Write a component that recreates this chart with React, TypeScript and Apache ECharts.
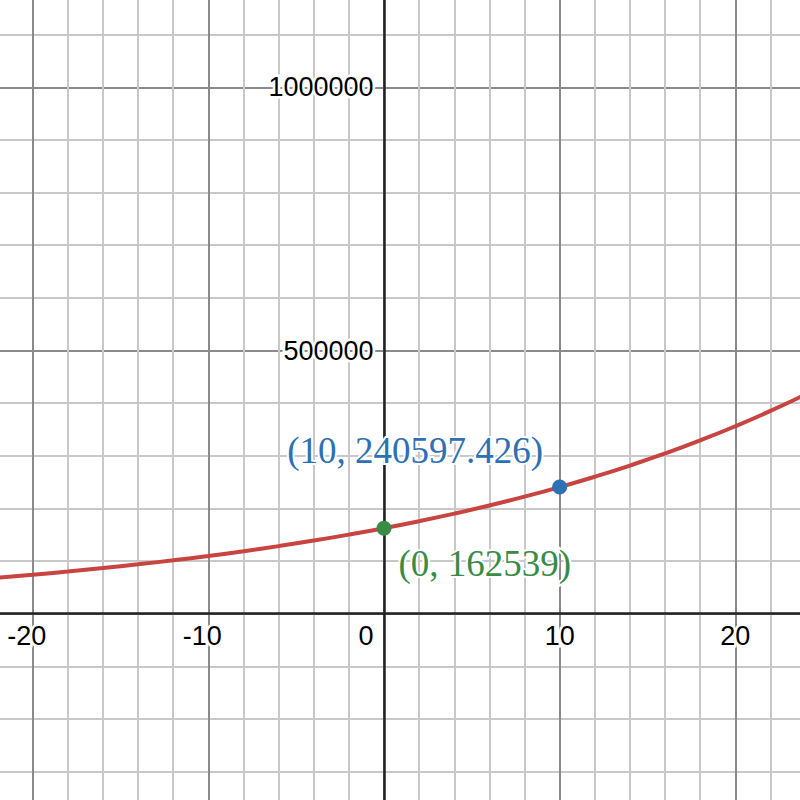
import React, { useEffect, useRef } from "react";
import * as echarts from "echarts";

const curveX = [-24, -22, -20, -18, -16, -14, -12, -10, -8, -6, -4, -2, 0, 2, 4, 6, 8, 10, 12, 14, 16, 18, 20, 22, 24];
const curveY = [63410, 68584, 74181, 80234, 86781, 93862, 101521, 109805, 118765, 128457, 138939, 150277, 162539, 175802, 190147, 205663, 222445, 240597, 260230, 281464, 304432, 329274, 356142, 385204, 416637];
const bluePoint = [10, 240597.426];
const greenPoint = [0, 162539];
const blueLabel = "(10, 240597.426)";
const greenLabel = "(0, 162539)";

const X_MIN = -30;
const X_MAX = 30;
const X_STEP = 10;
const Y_MIN = -500000;
const Y_MAX = 1500000;
const Y_STEP = 500000;

const RED = "#c74440";
const BLUE = "#2d70b3";
const GREEN = "#388c46";

// grid geometry (pixels)
const GL = -143;
const GT = -176;
const GW = 1054;
const GH = 1053;
const ZERO_X_PX = 384.5;
const ZERO_Y_PX = 613.5;

export default function App() {
  const ref = useRef<HTMLDivElement>(null);
  useEffect(() => {
    if (!ref.current) return;
    const chart = echarts.init(ref.current, undefined, { renderer: "svg" });
    const labelFont = "'Liberation Sans', Arial, sans-serif";
    const pointFont = "'Liberation Serif', 'DejaVu Serif', serif";
    const tickText = { fontSize: 27, fontFamily: labelFont, color: "#000", textBorderColor: "#fff", textBorderWidth: 5 };
    const gridAxisX = {
      type: "value",
      min: X_MIN,
      max: X_MAX,
      interval: X_STEP,
      axisLine: { show: false },
      axisTick: { show: false },
      axisLabel: { show: false },
      splitLine: { show: true, lineStyle: { color: "#8a8a8a", width: 2 } },
      minorTick: { show: false, splitNumber: 5 },
      minorSplitLine: { show: true, lineStyle: { color: "#c8c8c8", width: 2 } },
      z: 0,
    };
    const gridAxisY = {
      type: "value",
      min: Y_MIN,
      max: Y_MAX,
      interval: Y_STEP,
      axisLine: { show: false },
      axisTick: { show: false },
      axisLabel: { show: false },
      splitLine: { show: true, lineStyle: { color: "#8a8a8a", width: 2 } },
      minorTick: { show: false, splitNumber: 5 },
      minorSplitLine: { show: true, lineStyle: { color: "#c8c8c8", width: 2 } },
      z: 0,
    };
    chart.setOption({
      animation: false,
      backgroundColor: "#ffffff",
      grid: { left: GL, top: GT, width: GW, height: GH, containLabel: false, outerBoundsMode: "none" },
      xAxis: [
        gridAxisX,
        {
          type: "value",
          min: X_MIN,
          max: X_MAX,
          interval: X_STEP,
          position: "bottom",
          offset: -(GT + GH - ZERO_Y_PX),
          axisLine: { show: true, onZero: false, lineStyle: { color: "#222", width: 2.5 } },
          axisTick: { show: false },
          splitLine: { show: false },
          axisLabel: {
            showMinLabel: false,
            showMaxLabel: false,
            margin: 9,
            formatter: (v: number) => (v === 0 ? "{z|0}" : v < 0 ? "{n|" + v + "}" : "{p|" + v + "}"),
            rich: {
              z: { ...tickText, padding: [0, 36, 0, 0] },
              n: { ...tickText, padding: [0, 12, 0, 0] },
              p: { ...tickText },
            },
          },
          z: 5,
        },
      ],
      yAxis: [
        gridAxisY,
        {
          type: "value",
          min: Y_MIN,
          max: Y_MAX,
          interval: Y_STEP,
          position: "left",
          offset: -(ZERO_X_PX - GL),
          axisLine: { show: true, onZero: false, lineStyle: { color: "#222", width: 2.5 } },
          axisTick: { show: false },
          splitLine: { show: false },
          axisLabel: {
            showMinLabel: false,
            showMaxLabel: false,
            margin: 11,
            ...tickText,
            formatter: (v: number) => (v === 0 ? "" : String(v)),
          },
          z: 5,
        },
      ],
      series: [
        {
          type: "line",
          xAxisIndex: 0,
          yAxisIndex: 0,
          data: curveX.map((x, i) => [x, curveY[i]]),
          smooth: true,
          showSymbol: false,
          lineStyle: { color: RED, width: 4 },
          z: 3,
        },
        {
          type: "scatter",
          xAxisIndex: 0,
          yAxisIndex: 0,
          data: [bluePoint],
          symbolSize: 15,
          itemStyle: { color: BLUE, opacity: 1 },
          z: 10,
          label: {
            show: true,
            formatter: () => blueLabel,
            position: [-9, -29],
            align: "right",
            verticalAlign: "middle",
            fontSize: 37,
            fontFamily: pointFont,
            color: BLUE,
            textBorderColor: "#fff",
            textBorderWidth: 4,
          },
        },
        {
          type: "scatter",
          xAxisIndex: 0,
          yAxisIndex: 0,
          data: [greenPoint],
          symbolSize: 15,
          itemStyle: { color: GREEN, opacity: 1 },
          z: 10,
          label: {
            show: true,
            formatter: () => greenLabel,
            position: [22, 43],
            align: "left",
            verticalAlign: "middle",
            fontSize: 37,
            fontFamily: pointFont,
            color: GREEN,
            textBorderColor: "#fff",
            textBorderWidth: 4,
          },
        },
      ],
    });
    return () => chart.dispose();
  }, []);
  return (
    <div
      ref={ref}
      style={{ position: "fixed", left: 0, top: 0, width: 800, height: 800 }}
    />
  );
}
